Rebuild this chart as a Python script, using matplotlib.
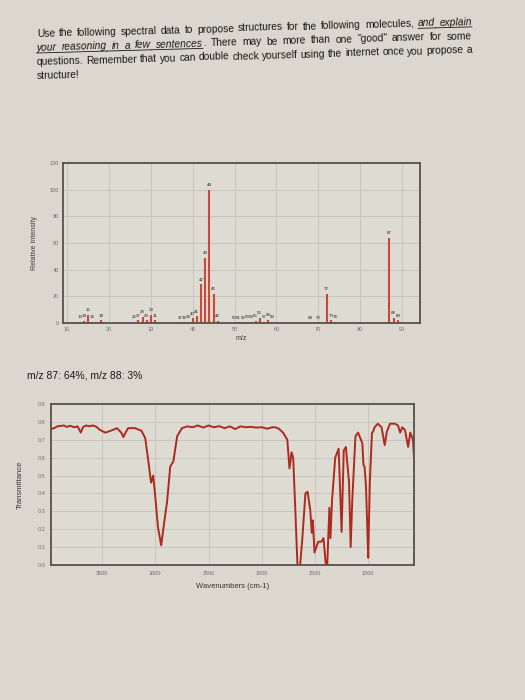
import matplotlib
matplotlib.use("Agg")
import matplotlib.pyplot as plt
from matplotlib.font_manager import FontProperties
from matplotlib.lines import Line2D
import numpy as np

# ---------------- data ----------------
ms_mz = [13, 14, 15, 16, 18,
         26, 27, 28, 29, 30, 31,
         37, 38, 39, 40, 41, 42, 43, 44, 45, 46,
         50, 51, 52, 53, 54, 55, 56, 57, 58, 59,
         68, 70, 72, 73, 74,
         87, 88, 89]
ms_int = [1, 1.5, 6, 1, 2,
          1, 2, 4.5, 2, 6, 2,
          0.5, 0.5, 1, 3.5, 5, 29, 49, 100, 22, 1.5,
          0.5, 0.5, 0.5, 1, 1, 1.5, 4, 1, 2.5, 1,
          0.5, 0.5, 22, 2, 1,
          64, 4, 2]
ms_xticks = [10, 20, 30, 40, 50, 60, 70, 80, 90]
ms_yticks = [0, 20, 40, 60, 80, 100, 120]

ir_wn = [3980, 3950, 3920, 3895, 3860, 3830, 3800, 3760, 3730, 3700, 3680, 3650,
         3620, 3590, 3560, 3520, 3470, 3420, 3360, 3320, 3300, 3280, 3255, 3190,
         3130, 3095, 3070, 3040, 3020, 3000, 2975, 2945, 2925, 2900, 2890, 2860,
         2830, 2795, 2750, 2700, 2650, 2600, 2550, 2500, 2450, 2400, 2350, 2300,
         2250, 2200, 2150, 2100, 2050, 2000, 1950, 1900, 1874, 1840, 1800, 1760,
         1740, 1720, 1705, 1685, 1665, 1640, 1620, 1590, 1570, 1545, 1530, 1520,
         1505, 1470, 1440, 1420, 1400, 1385, 1365, 1355, 1340, 1310, 1278, 1250,
         1230, 1210, 1180, 1165, 1150, 1120, 1095, 1055, 1045, 1035, 1025, 1020,
         1010, 1000, 985, 965, 955, 940, 910, 875, 845, 825, 795, 750, 720, 700,
         680, 655, 625, 605, 580, 570]
ir_t = [0.76, 0.765, 0.775, 0.777, 0.78, 0.772, 0.778, 0.77, 0.775, 0.74, 0.77, 0.78,
        0.775, 0.78, 0.775, 0.755, 0.74, 0.75, 0.765, 0.74, 0.715, 0.74, 0.765, 0.765,
        0.75, 0.71, 0.60, 0.46, 0.50, 0.38, 0.21, 0.11, 0.20, 0.31, 0.35, 0.55,
        0.58, 0.72, 0.765, 0.775, 0.77, 0.78, 0.768, 0.78, 0.77, 0.776, 0.765, 0.775,
        0.76, 0.775, 0.77, 0.772, 0.768, 0.77, 0.762, 0.77, 0.77, 0.762, 0.74, 0.70,
        0.54, 0.63, 0.60, 0.31, 0.0, 0.0, 0.14, 0.40, 0.41, 0.31, 0.18, 0.25,
        0.07, 0.13, 0.13, 0.15, 0.01, 0.0, 0.32, 0.15, 0.36, 0.60, 0.65, 0.185,
        0.64, 0.66, 0.46, 0.10, 0.36, 0.72, 0.74, 0.68, 0.56, 0.55, 0.475, 0.42,
        0.235, 0.04, 0.46, 0.74, 0.745, 0.77, 0.79, 0.77, 0.67, 0.745, 0.79, 0.79, 0.78, 0.74,
        0.77, 0.755, 0.66, 0.74, 0.70, 0.60]
ir_xticks = [3500, 3000, 2500, 2000, 1500, 1000]
ir_yticks = [0.0, 0.1, 0.2, 0.3, 0.4, 0.5, 0.6, 0.7, 0.8, 0.9]

header_lines = [
    [("Use the following spectral data to propose structures for the following molecules,", "normal", False),
     ("and explain", "italic", True)],
    [("your reasoning in a few sentences", "italic", True),
     (". There may be more than one \"good\" answer for some", "normal", False)],
    [("questions. Remember that you can double check yourself using the internet once you propose a", "normal", False)],
    [("structure!", "normal", False)],
]

# ---------------- figure ----------------
W, H = 525, 700
paper = "#dbd7ce"
fig = plt.figure(figsize=(W / 100, H / 100), dpi=100, facecolor=paper)
plt.rcParams["font.family"] = ["Liberation Sans", "DejaVu Sans"]

def fx(px):
    return px / W

def fy(py):
    return 1 - py / H

# ---- header text (slightly tilted, justified like the photo) ----
renderer = fig.canvas.get_renderer()
ang = 1.6
th = np.deg2rad(ang)
fs = 7.4
text_col = "#1a1a1a"
line_w = 435.0

def tokens_of(pieces):
    toks = []
    for s, style, ul in pieces:
        if s.startswith("."):
            toks.append([".", style, ul, False])
            s = s[1:]
        for wd in s.split():
            toks.append([wd, style, ul, True])
    if toks:
        toks[0][3] = False
    return toks

def put_line(x0, y0, pieces, justify):
    toks = tokens_of(pieces)
    widths = []
    for wd, style, ul, g in toks:
        fp = FontProperties(family="Liberation Sans", size=fs, style=style)
        w, h, d = renderer.get_text_width_height_descent(wd, fp, ismath=False)
        widths.append(w)
    ngaps = sum(1 for t in toks if t[3])
    space_fp = FontProperties(family="Liberation Sans", size=fs)
    sp = renderer.get_text_width_height_descent("a a", space_fp, ismath=False)[0] - \
        renderer.get_text_width_height_descent("aa", space_fp, ismath=False)[0]
    if justify and ngaps:
        sp = (line_w - sum(widths)) / ngaps
    pos = 0.0
    prev_end_ul = None
    for (wd, style, ul, g), w in zip(toks, widths):
        if g:
            pos += sp
        start = pos
        fp = FontProperties(family="Liberation Sans", size=fs, style=style)
        x = x0 + start * np.cos(th)
        y = y0 - start * np.sin(th)
        fig.text(fx(x), fy(y), wd, fontproperties=fp, color=text_col,
                 rotation=ang, rotation_mode="anchor", ha="left", va="baseline")
        pos += w
        if ul:
            a = prev_end_ul if (prev_end_ul is not None and g) else start
            off = 2.0
            xa = x0 + a * np.cos(th) + off * np.sin(th)
            ya = y0 - a * np.sin(th) + off * np.cos(th)
            xb = x0 + pos * np.cos(th) + off * np.sin(th)
            yb = y0 - pos * np.sin(th) + off * np.cos(th)
            fig.add_artist(Line2D([fx(xa), fx(xb)], [fy(ya), fy(yb)], color=text_col, lw=0.6))
            prev_end_ul = pos
        else:
            prev_end_ul = None

put_line(37, 37, header_lines[0], True)
put_line(37, 51, header_lines[1], True)
put_line(37, 65, header_lines[2], True)
put_line(37, 79, header_lines[3], False)

# ---- mass spectrum ----
bar_col = "#c9483a"
ax1 = fig.add_axes([fx(63), fy(323), fx(420) - fx(63), fy(163) - fy(323)])
ax1.set_facecolor("#dedbd3")
ax1.vlines(ms_mz, 0, ms_int, color=bar_col, lw=1.5)
for m, v in zip(ms_mz, ms_int):
    ax1.text(m, v + 2.0, str(m), fontsize=3.2, ha="center", va="bottom", color="#222222")
ax1.set_xlim(9, 94.3)
ax1.set_ylim(0, 120)
ax1.set_xticks(ms_xticks)
ax1.set_yticks(ms_yticks)
ax1.tick_params(labelsize=4, colors="#6f6f6f", length=0, pad=3)
ax1.grid(True, color="#c4c1ba", lw=0.6)
ax1.set_axisbelow(True)
for spn in ax1.spines.values():
    spn.set_color("#55524b")
    spn.set_linewidth(1.3)
ax1.set_ylabel("Relative Intensity", fontsize=5, color="#3a3a3a", labelpad=8)
ax1.set_xlabel("m/z", fontsize=5, color="#3a3a3a", labelpad=2)

fig.text(fx(27), fy(378), "m/z 87: 64%, m/z 88: 3%", fontsize=7.5, color=text_col,
         ha="left", va="baseline")

# ---- IR spectrum ----
line_col = "#ad2a1f"
ax2 = fig.add_axes([fx(51), fy(565), fx(414) - fx(51), fy(404) - fy(565)])
ax2.set_facecolor("#dedbd3")
ax2.plot(ir_wn, ir_t, color=line_col, lw=1.4)
ax2.set_xlim(3980, 570)
ax2.set_ylim(0, 0.9)
ax2.set_xticks(ir_xticks)
ax2.set_yticks(ir_yticks)
ax2.set_yticklabels([f"{v:.1f}" for v in ir_yticks])
ax2.tick_params(labelsize=4, colors="#6f6f6f", length=0, pad=4)
ax2.grid(True, color="#c4c1ba", lw=0.6)
ax2.set_axisbelow(True)
for spn in ax2.spines.values():
    spn.set_color("#55524b")
    spn.set_linewidth(1.3)
ax2.set_ylabel("Transmittance", fontsize=5.5, color="#333333", labelpad=10)
ax2.set_xlabel("Wavenumbers (cm-1)", fontsize=5.5, color="#333333", labelpad=5)

fig.savefig("out.png", dpi=100, facecolor=paper)
